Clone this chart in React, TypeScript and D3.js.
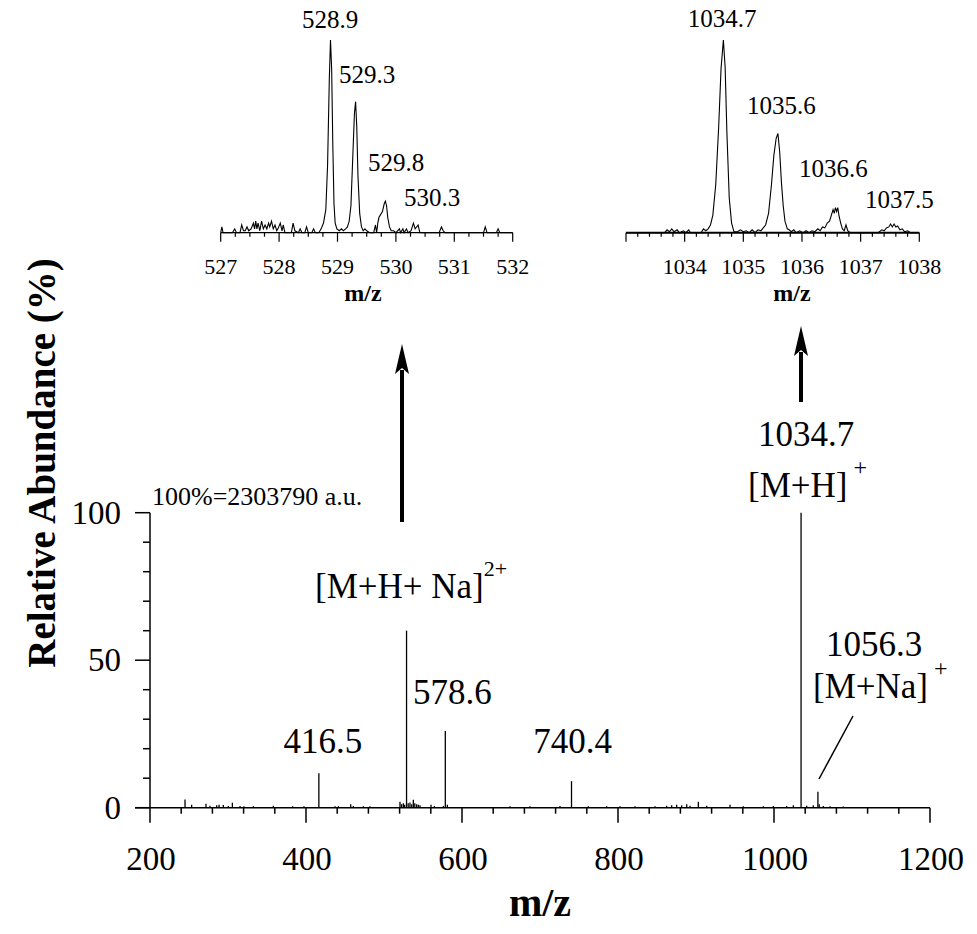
import React from "react";
import * as d3 from "d3";

// ---- Main spectrum (stick) data ----
const MAIN_MZ = [244.9,253.4,271.8,276.9,285.5,288.5,294,300.4,305.6,315.4,320.5,332.5,358.1,382.9,397.4,416.5,437.2,441.5,457.3,460.7,473.5,482,520.5,522.5,524.8,526.5,528.9,531,533.3,535.5,537.6,539.5,541.9,544,546.2,560.3,564.6,576.1,578.6,581.2,661.5,687.2,725.6,740.4,761.9,785.5,802.6,821.8,847.4,862.4,868.8,875.2,881.6,888.1,892.3,903,913.7,943.6,960.7,986.3,999.1,1016.2,1024.8,1034.7,1041.9,1050.4,1056.3,1058,1063.2,1071.8,1088.8];
const MAIN_ABUND = [2.8,1,1.3,0.7,0.8,1,0.9,0.6,1.7,0.6,0.5,0.5,0.7,0.5,0.5,11.7,0.5,0.5,1.2,0.6,0.5,0.5,2,1.2,1.5,1,60,1.5,1.8,1.2,2.7,1.5,1.2,1,0.8,1,0.6,0.6,26,1,0.5,0.5,0.6,9,0.5,0.5,0.5,0.5,0.5,0.7,0.8,1,0.8,1.2,0.7,2,0.7,1,0.5,0.5,0.6,0.6,0.8,100,0.7,0.8,5.4,1.2,0.6,0.5,0.4];

const MAIN_X_LABELS = [200, 400, 600, 800, 1000, 1200];
const MAIN_Y_LABELS = [0, 50, 100];

// ---- Inset 1 profile (m/z 527-532) ----
const INSET1_MZ = [527.00,527.02,527.04,527.20,527.24,527.27,527.33,527.36,527.39,527.42,527.45,527.48,527.52,527.56,527.58,527.60,527.62,527.64,527.67,527.70,527.73,527.76,527.79,527.82,527.84,527.87,527.90,527.93,527.96,527.98,528.02,528.05,528.07,528.10,528.21,528.24,528.27,528.33,528.36,528.39,528.44,528.47,528.50,528.56,528.59,528.62,528.68,528.72,528.76,528.80,528.83,528.86,528.88,528.90,528.92,528.94,528.96,528.99,529.03,529.07,529.10,529.14,529.17,529.20,529.23,529.26,529.29,529.31,529.33,529.35,529.38,529.41,529.44,529.47,529.50,529.55,529.62,529.65,529.67,529.69,529.71,529.73,529.75,529.77,529.80,529.82,529.84,529.86,529.89,529.92,529.96,530.00,530.06,530.08,530.12,530.14,530.18,530.21,530.26,530.30,530.33,530.38,530.41,530.74,530.78,530.81,530.84,531.50,531.53,531.56,531.72,531.75,531.78,532.00];
const INSET1_INT = [0,3,0,0,2,0,0,4,1,1,3,1,2,5,2,6,2,5,1,6,2,4,2,5,3,6,2,4,1,2,5,1,4,0,0,5,1,0,2,0,0,3,0,0,2,0,0,2,5,12,35,80,100,85,45,15,5,2,1,2,1,2,3,6,14,38,62,68,55,30,10,3,1,2,1,0,0,4,0,5,8,9,10,11,15,16.4,14,8,3,1,1,0,2,0,2,0,2,0,1,5,2,4,0,0,3,1,0,0,3,0,0,2,0,0];
const INSET1_LABELS = [527, 528, 529, 530, 531, 532];
const INSET1_PEAKS = ["528.9", "529.3", "529.8", "530.3"];

// ---- Inset 2 profile (m/z 1033-1038) ----
const INSET2_MZ = [1033.00,1033.66,1033.70,1033.74,1033.78,1033.82,1033.87,1033.91,1033.98,1034.02,1034.07,1034.10,1034.28,1034.32,1034.36,1034.40,1034.44,1034.48,1034.53,1034.58,1034.62,1034.66,1034.69,1034.72,1034.76,1034.80,1034.84,1034.90,1034.95,1035.00,1035.05,1035.10,1035.15,1035.20,1035.25,1035.30,1035.34,1035.38,1035.43,1035.48,1035.52,1035.56,1035.59,1035.62,1035.65,1035.68,1035.71,1035.75,1035.78,1035.82,1035.86,1035.90,1035.96,1036.02,1036.07,1036.12,1036.17,1036.22,1036.27,1036.31,1036.35,1036.39,1036.43,1036.47,1036.50,1036.53,1036.55,1036.57,1036.59,1036.61,1036.63,1036.66,1036.69,1036.72,1036.75,1036.78,1036.82,1037.30,1037.36,1037.40,1037.44,1037.48,1037.51,1037.54,1037.57,1037.60,1037.63,1037.67,1037.71,1037.75,1037.80,1037.85,1038.00];
const INSET2_INT = [0,0,1.5,0.5,2,0.5,1.5,0,1,0,1.5,0,0,2,1,2,4,9,25,55,85,100,86,52,18,5,0.5,0.5,1.5,0.5,1,0,1.5,0,1.5,1,2.5,4,10,25,40,49,51.5,42,26,14,6,2,1.5,0.5,1.5,0,1,0,1,0,1,0.5,2,1,3,2.5,5,6,9,12,10,13,11,13,9,5,2,1,4,1,0,0,1.5,1,2.5,3,4.5,3,4.5,3,3.5,1.5,2,0.5,1,0,0];
const INSET2_LABELS = [1034, 1035, 1036, 1037, 1038];
const INSET2_PEAKS = ["1034.7", "1035.6", "1036.6", "1037.5"];

const FONT = "Liberation Serif, DejaVu Serif, serif";

function Arrow({ x, y1, y2 }: { x: number; y1: number; y2: number }) {
  const hl = 30, hw = 7;
  return (
    <g>
      <line x1={x} x2={x} y1={y1} y2={y2 + hl - 4} stroke="#000" strokeWidth={4} />
      <path d={`M${x},${y2} L${x - hw},${y2 + hl} L${x},${y2 + hl - 6} L${x + hw},${y2 + hl} Z`} fill="#000" />
    </g>
  );
}

export default function App() {
  const x = d3.scaleLinear().domain([200, 1200]).range([150, 930]);
  const y = d3.scaleLinear().domain([0, 100]).range([807.7, 512.7]);

  const x1 = d3.scaleLinear().domain([527, 532]).range([220.7, 512.7]);
  const x2 = d3.scaleLinear().domain([1033, 1038]).range([626, 919.3]);
  const yi = d3.scaleLinear().domain([0, 100]).range([232.7, 40]);

  const line1 = d3.line<number>().x((d, i) => x1(INSET1_MZ[i])).y((d) => yi(d));
  const line2 = d3.line<number>().x((d, i) => x2(INSET2_MZ[i])).y((d) => yi(d));

  const xTicks = d3.range(200, 1200.01, 40);
  const yTicks = d3.range(0, 100.01, 10);
  const in1Ticks = d3.range(527, 532.001, 0.25);
  const in2Ticks = d3.range(1033, 1038.001, 0.2);

  const y0 = y(0);
  const ts = { fontFamily: FONT } as React.CSSProperties;

  return (
    <svg width={977} height={934} style={{ position: "absolute", left: 0, top: 0, background: "#fff", fontFamily: FONT }}>
      <rect width={977} height={934} fill="#fff" />

      {/* ===== Inset 1 ===== */}
      <path d={line1(INSET1_INT) || ""} fill="none" stroke="#000" strokeWidth={1.1} />
      <line x1={x1(527)} x2={x1(532)} y1={yi(0)} y2={yi(0)} stroke="#000" strokeWidth={1.2} />
      {in1Ticks.map((t, i) => {
        const major = Math.abs(t - Math.round(t)) < 1e-6;
        return <line key={i} x1={x1(t)} x2={x1(t)} y1={yi(0)} y2={yi(0) + (major ? 9 : 4)} stroke="#000" strokeWidth={1.2} />;
      })}
      {INSET1_LABELS.map((t) => (
        <text key={t} style={ts} x={x1(t)} y={274} fontSize={22} textAnchor="middle">{t}</text>
      ))}
      <text style={ts} x={363} y={301} fontSize={24} fontWeight="bold" textAnchor="middle">m/z</text>
      <text style={ts} x={330} y={28} fontSize={25} textAnchor="middle">{INSET1_PEAKS[0]}</text>
      <text style={ts} x={339} y={83} fontSize={25}>{INSET1_PEAKS[1]}</text>
      <text style={ts} x={368} y={171} fontSize={25}>{INSET1_PEAKS[2]}</text>
      <text style={ts} x={404} y={206} fontSize={25}>{INSET1_PEAKS[3]}</text>

      {/* ===== Inset 2 ===== */}
      <path d={line2(INSET2_INT) || ""} fill="none" stroke="#000" strokeWidth={1.1} />
      <line x1={x2(1033)} x2={x2(1038)} y1={yi(0)} y2={yi(0)} stroke="#000" strokeWidth={2} />
      {in2Ticks.map((t, i) => {
        const major = Math.abs(t - Math.round(t)) < 1e-6;
        return <line key={i} x1={x2(t)} x2={x2(t)} y1={yi(0)} y2={yi(0) + (major ? 9 : 4)} stroke="#000" strokeWidth={1.2} />;
      })}
      {INSET2_LABELS.map((t) => (
        <text key={t} style={ts} x={x2(t)} y={274} fontSize={22} textAnchor="middle">{t}</text>
      ))}
      <text style={ts} x={792} y={301} fontSize={24} fontWeight="bold" textAnchor="middle">m/z</text>
      <text style={ts} x={722} y={27} fontSize={25} textAnchor="middle">{INSET2_PEAKS[0]}</text>
      <text style={ts} x={747} y={114} fontSize={25}>{INSET2_PEAKS[1]}</text>
      <text style={ts} x={799} y={177} fontSize={25}>{INSET2_PEAKS[2]}</text>
      <text style={ts} x={865} y={208} fontSize={25}>{INSET2_PEAKS[3]}</text>

      {/* ===== Arrows ===== */}
      <Arrow x={402} y1={522} y2={344} />
      <Arrow x={801} y1={402} y2={326} />

      {/* ===== Main spectrum ===== */}
      {MAIN_MZ.map((m, i) => (
        <line key={i} x1={x(m)} x2={x(m)} y1={y0} y2={y(MAIN_ABUND[i])} stroke="#000" strokeWidth={1.3} />
      ))}

      {/* axes */}
      <line x1={150} x2={150} y1={y(100)} y2={y0} stroke="#000" strokeWidth={1.5} />
      <line x1={135} x2={x(1200)} y1={y0} y2={y0} stroke="#000" strokeWidth={1.5} />
      {xTicks.map((t, i) => {
        const major = (t - 200) % 200 === 0;
        return <line key={i} x1={x(t)} x2={x(t)} y1={y0} y2={y0 + (major ? 15 : 6)} stroke="#000" strokeWidth={1.5} />;
      })}
      {yTicks.map((t, i) => {
        const major = t % 50 === 0;
        return <line key={i} x1={150 - (major ? 15 : 7)} x2={150} y1={y(t)} y2={y(t)} stroke="#000" strokeWidth={1.5} />;
      })}
      {MAIN_X_LABELS.map((t) => (
        <text key={t} style={ts} x={x(t) + 1} y={870} fontSize={33} textAnchor="middle">{t}</text>
      ))}
      {MAIN_Y_LABELS.map((t) => (
        <text key={t} style={ts} x={121} y={y(t) + 11} fontSize={33} textAnchor="end">{t}</text>
      ))}
      <text style={ts} x={540} y={916} fontSize={40} fontWeight="bold" textAnchor="middle">m/z</text>
      <text style={ts} transform="translate(55,463) rotate(-90)" fontSize={39} fontWeight="bold" textAnchor="middle">Relative Abundance (%)</text>

      {/* annotations */}
      <text style={ts} x={152} y={505} fontSize={26}>100%=2303790 a.u.</text>
      <text style={ts} x={315} y={598} fontSize={35}>[M+H+ Na]<tspan fontSize={22} dy={-22}>2+</tspan></text>
      <text style={ts} x={x(416.5) + 4} y={753} fontSize={35} textAnchor="middle">416.5</text>
      <text style={ts} x={413} y={704} fontSize={35}>578.6</text>
      <text style={ts} x={x(740.4) + 1} y={753} fontSize={35} textAnchor="middle">740.4</text>
      <text style={ts} x={806} y={446} fontSize={35} textAnchor="middle">1034.7</text>
      <text style={ts} x={748} y={497} fontSize={35}>[M+H]<tspan fontSize={24} dy={-22} dx={6}>+</tspan></text>
      <text style={ts} x={874} y={656} fontSize={35} textAnchor="middle">1056.3</text>
      <text style={ts} x={813} y={698} fontSize={35}>[M+Na]<tspan fontSize={24} dy={-22} dx={6}>+</tspan></text>
      <line x1={853} y1={716} x2={819} y2={779} stroke="#000" strokeWidth={1.5} />
    </svg>
  );
}
